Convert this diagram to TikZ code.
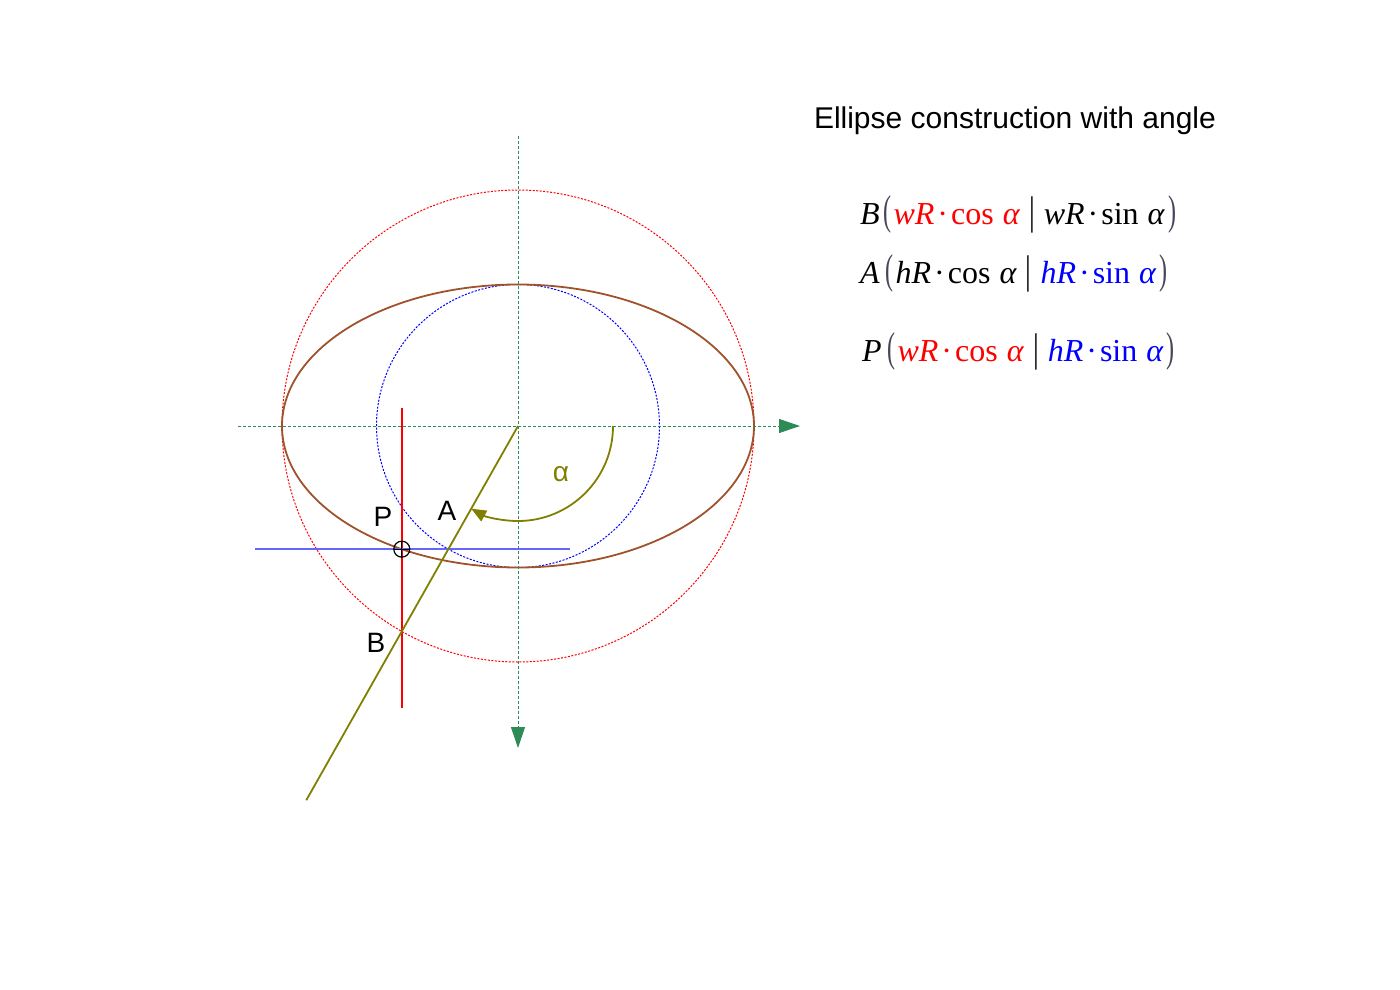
\documentclass[tikz,border=0pt]{standalone}
\usepackage{fontspec}
\setmainfont{Liberation Serif}
\setsansfont{Liberation Sans}
\usepackage{graphicx}
\usetikzlibrary{arrows.meta}

\begin{document}
\begin{tikzpicture}[x=1pt,y=-1pt,line cap=butt,
	axisline/.style={dash pattern=on 3pt off 2pt,line width=1pt,custcolGreen,
		-{Triangle[length=21pt,width=14pt]}},
	guidecircle/.style={dash pattern=on 2pt off 1.5pt,line width=1pt},
	ptlabel/.style={inner sep=0,outer sep=0,font=\sffamily\fontsize{28pt}{28pt}\selectfont}]
	\def\figfontA#1{{\sffamily #1}}
	\def\figfontB#1{{\rmfamily #1}}
	\def\tallparen#1{\textcolor{custcolParen}{\scalebox{0.75}[1.3]{#1}}}
	\def\tallbar{\kern9pt\scalebox{0.9}[1.25]{|}\kern9pt}
	\def\cdotsp{\kern3pt·\kern3pt}
	\definecolor{custcolRed}{RGB}{255, 0, 0}
	\definecolor{custcolBlue}{RGB}{0, 0, 255}
	\definecolor{custcolLightBlue}{RGB}{102, 102, 255}
	\definecolor{custcolBrown}{RGB}{160, 82, 45}
	\definecolor{custcolGreen}{RGB}{46, 139, 87}
	\definecolor{custcolOlive}{RGB}{128, 128, 0}
	\definecolor{custcolParen}{RGB}{70, 70, 90}
	\useasboundingbox (0,0) rectangle (1400,990);
	% points of the construction
	\coordinate (O) at (518,426);
	\path (O) ++(119.5:236) coordinate (B);
	\path (O) ++(119.5:141.5) coordinate (A);
	\coordinate (P) at (B |- A);
	\path (O) ++(119.5:430) coordinate (rayend);
	\path (O) ++(0:95) coordinate (arcstart);
	\path (P) ++(0,-141) coordinate (vlinetop);
	\path (P) ++(0,159) coordinate (vlinebot);
	\path (P) ++(-147,0) coordinate (hlineleft);
	\path (P) ++(168,0) coordinate (hlineright);
	\coordinate (xaxisL) at (238,426);
	\coordinate (xaxisR) at (800,426);
	\coordinate (yaxisT) at (518,136);
	\coordinate (yaxisB) at (518,748);
	% circles and ellipse
	\draw [guidecircle, custcolRed] (O) circle [radius=236];
	\draw [guidecircle, custcolBlue] (O) circle [radius=141.5];
	\draw [line width=1.8pt, custcolBrown] (O) ellipse [x radius=236, y radius=141.5];
	% axes
	\draw [axisline] (xaxisL) -- (xaxisR);
	\draw [axisline] (yaxisT) -- (yaxisB);
	% projection lines
	\draw [line width=1.5pt, custcolRed] (vlinetop) -- (vlinebot);
	\draw [line width=1.5pt, custcolLightBlue] (hlineleft) -- (hlineright);
	\draw [line width=1.8pt, custcolOlive] (O) -- (rayend);
	\draw [line width=1.8pt, custcolOlive, -{Triangle[length=15pt,width=12pt]}]
		(arcstart) arc [start angle=0, end angle=119.5, radius=95];
	% point P
	\draw [line width=1.2pt] (P) circle [radius=8];
	\draw [line width=1.2pt] (P) ++(-8,0) -- ++(16,0);
	\draw [line width=1.2pt] (P) ++(0,-8) -- ++(0,16);
	\node [ptlabel] (labP) at (383,517) {P};
	\node [ptlabel] (labA) at (447,511) {A};
	\node [ptlabel] (labB) at (376,643) {B};
	\node [ptlabel, custcolOlive] (labalpha) at (561,474) {α};
	% text
	\figfontA{\fontsize{30pt}{30pt}\selectfont\node[inner sep=0, outer sep=0, anchor=base west] (title) at (814,128) {Ellipse construction with angle};}
	\figfontB{\fontsize{32pt}{32pt}\selectfont
	\node[inner sep=0, outer sep=0, anchor=base west] (eqB) at (860,224)
		{\textit{B}\kern4pt\tallparen{(}\kern2pt\textcolor{custcolRed}{\textit{wR}\cdotsp cos\kern9pt\textit{α}}\tallbar\textit{wR}\cdotsp sin\kern9pt\textit{α}\kern3pt\tallparen{)}};
	\node[inner sep=0, outer sep=0, anchor=base west] (eqA) at (860,283)
		{\textit{A}\kern6pt\tallparen{(}\kern2pt\textit{hR}\cdotsp cos\kern9pt\textit{α}\tallbar\textcolor{custcolBlue}{\textit{hR}\cdotsp sin\kern9pt\textit{α}}\kern3pt\tallparen{)}};
	\node[inner sep=0, outer sep=0, anchor=base west] (eqP) at (862,361)
		{\textit{P}\kern6pt\tallparen{(}\kern2pt\textcolor{custcolRed}{\textit{wR}\cdotsp cos\kern9pt\textit{α}}\tallbar\textcolor{custcolBlue}{\textit{hR}\cdotsp sin\kern9pt\textit{α}}\kern3pt\tallparen{)}};}
\end{tikzpicture}
\end{document}
